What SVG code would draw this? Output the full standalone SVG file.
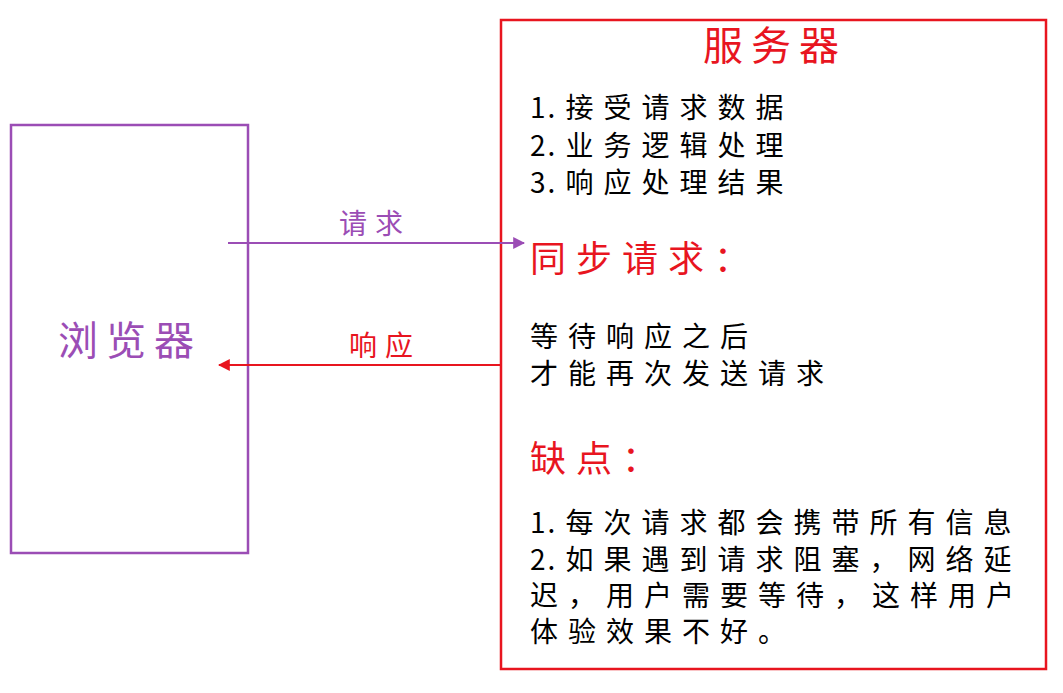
<svg xmlns="http://www.w3.org/2000/svg" width="1063" height="693" viewBox="0 0 1063 693">
<style>
text{font-family:"Noto Sans CJK SC","Noto Sans",sans-serif}
.b{font-size:28px;fill:#000;letter-spacing:10px}
.n{letter-spacing:2px}
.r{fill:#E8151F}
.p{fill:#9B4DB5}
</style>
<defs>
<marker id="ap" viewBox="0 0 10 10" refX="9" refY="5" markerWidth="6" markerHeight="6" orient="auto"><path d="M0,0L10,5L0,10z" fill="#9B4DB5"/></marker>
<marker id="ar" viewBox="0 0 10 10" refX="9" refY="5" markerWidth="6" markerHeight="6" orient="auto"><path d="M0,0L10,5L0,10z" fill="#E8151F"/></marker>
</defs>
<rect width="1063" height="693" fill="#fff"/>
<g id="browser">
<rect x="11" y="125" width="237" height="428" fill="none" stroke="#9B4DB5" stroke-width="2.5"/>
<text class="p" x="130" y="355" font-size="40" text-anchor="middle" letter-spacing="8">浏览器</text>
</g>
<g id="server">
<rect x="501" y="20" width="545" height="649" fill="none" stroke="#E8151F" stroke-width="2.5"/>
<text class="r" x="775" y="60" font-size="40" text-anchor="middle" letter-spacing="8">服务器</text>
<text class="b" x="530" y="118"><tspan class="n">1. </tspan>接受请求数据</text>
<text class="b" x="530" y="156"><tspan class="n">2. </tspan>业务逻辑处理</text>
<text class="b" x="530" y="193"><tspan class="n">3. </tspan>响应处理结果</text>
<text class="r" x="530" y="272" font-size="36" letter-spacing="10">同步请求：</text>
<text class="b" x="530" y="347">等待响应之后</text>
<text class="b" x="530" y="384">才能再次发送请求</text>
<text class="r" x="530" y="472" font-size="36" letter-spacing="10">缺点：</text>
<text class="b" x="530" y="533"><tspan class="n">1. </tspan>每次请求都会携带所有信息</text>
<text class="b" x="530" y="570"><tspan class="n">2. </tspan>如果遇到请求阻塞，网络延</text>
<text class="b" x="530" y="606">迟，用户需要等待，这样用户</text>
<text class="b" x="530" y="642">体验效果不好。</text>
</g>
<g id="connectors">
<line x1="228" y1="243" x2="524" y2="243" stroke="#9B4DB5" stroke-width="2" marker-end="url(#ap)"/>
<text class="p" x="375" y="234" font-size="28" text-anchor="middle" letter-spacing="8">请求</text>
<line x1="500" y1="365" x2="219" y2="365" stroke="#E8151F" stroke-width="2" marker-end="url(#ar)"/>
<text class="r" x="385" y="356" font-size="28" text-anchor="middle" letter-spacing="8">响应</text>
</g>
</svg>
